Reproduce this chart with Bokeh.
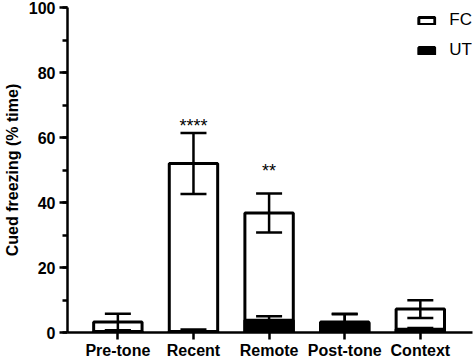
from bokeh.plotting import figure
from bokeh.models import (ColumnDataSource, Whisker, TeeHead, FixedTicker, SingleIntervalTicker,
                          Legend, LegendItem, Range1d)
from bokeh.core.properties import value
from bokeh.embed import file_html
from bokeh.resources import INLINE

categories = ["Pre-tone", "Recent", "Remote", "Post-tone", "Context"]
fc_mean = [3.2, 52.0, 36.8, 3.0, 7.2]
fc_sem = [2.6, 9.4, 6.0, 2.6, 2.7]
ut_mean = [0.3, 0.3, 3.8, 3.2, 1.0]
ut_sem = [0.4, 0.6, 1.2, 2.6, 0.4]
sig_labels = ["", "****", "**", "", ""]
sig_y = [0, 63.5, 49.7, 0, 0]

FONT = "Liberation Sans"
xs = list(range(1, len(categories) + 1))

p = figure(width=474, height=361, output_backend="svg", toolbar_location=None,
           x_range=Range1d(0.334, 5.69), y_range=Range1d(0, 100),
           min_border_left=62, min_border_right=2, min_border_top=7, min_border_bottom=28)
p.outline_line_color = None
p.grid.grid_line_color = None
p.background_fill_color = None
p.border_fill_color = "white"

fc_src = ColumnDataSource(dict(x=xs, top=fc_mean,
                               upper=[m + s for m, s in zip(fc_mean, fc_sem)],
                               lower=[m - s for m, s in zip(fc_mean, fc_sem)],
                               sig=sig_labels, sig_y=sig_y))
ut_src = ColumnDataSource(dict(x=xs, top=ut_mean,
                               upper=[m + s for m, s in zip(ut_mean, ut_sem)],
                               lower=[max(m - s, 0) for m, s in zip(ut_mean, ut_sem)]))

fc_r = p.vbar(x="x", top="top", bottom=0, width=0.64, source=fc_src,
              fill_color="white", line_color="black", line_width=3)
ut_r = p.vbar(x="x", top="top", bottom=0, width=0.64, source=ut_src,
              fill_color="black", line_color="black", line_width=3)

for src in (fc_src, ut_src):
    w = Whisker(base="x", upper="upper", lower="lower", source=src, level="overlay",
                line_width=2.5, line_color="black",
                upper_head=TeeHead(size=26, line_width=2.5, line_color="black"),
                lower_head=TeeHead(size=26, line_width=2.5, line_color="black"))
    p.add_layout(w)

p.text(x="x", y="sig_y", text="sig", source=fc_src, text_align="center",
       text_baseline="middle", text_font=value(FONT), text_font_size="18px",
       text_color="black")

# axes
p.xaxis.ticker = FixedTicker(ticks=xs)
p.xaxis.major_label_overrides = {x: c for x, c in zip(xs, categories)}
p.yaxis.ticker = SingleIntervalTicker(interval=20, num_minor_ticks=2)
for ax in (p.xaxis, p.yaxis):
    ax.axis_line_width = 2.5
    ax.axis_line_color = "black"
    ax.major_tick_line_width = 2.5
    ax.major_tick_line_color = "black"
    ax.major_tick_in = 0
    ax.major_label_text_font = FONT
    ax.major_label_text_font_style = "bold"
    ax.major_label_text_font_size = "16px"
    ax.major_label_text_color = "black"
p.xaxis.major_tick_out = 7
p.yaxis.major_tick_out = 8
p.xaxis.minor_tick_line_color = None
p.yaxis.minor_tick_line_width = 2.5
p.yaxis.minor_tick_line_color = "black"
p.yaxis.minor_tick_in = 0
p.yaxis.minor_tick_out = 5
p.xaxis.major_label_standoff = 2
p.yaxis.major_label_standoff = 4
p.yaxis.axis_label = "Cued freezing (% time)"
p.yaxis.axis_label_text_font = FONT
p.yaxis.axis_label_text_font_style = "bold"
p.yaxis.axis_label_text_font_size = "16px"
p.yaxis.axis_label_text_color = "black"
p.yaxis.axis_label_standoff = 5

legend = Legend(items=[LegendItem(label="FC", renderers=[fc_r]),
                       LegendItem(label="UT", renderers=[ut_r])],
                location="top_right", border_line_color=None,
                background_fill_alpha=0, padding=0, margin=0, spacing=4,
                glyph_width=20, glyph_height=9, label_height=26,
                label_standoff=13, label_text_font=FONT, label_text_font_size="17px",
                label_text_color="black")
p.add_layout(legend)

open("out.html", "w").write(file_html(p, INLINE))
